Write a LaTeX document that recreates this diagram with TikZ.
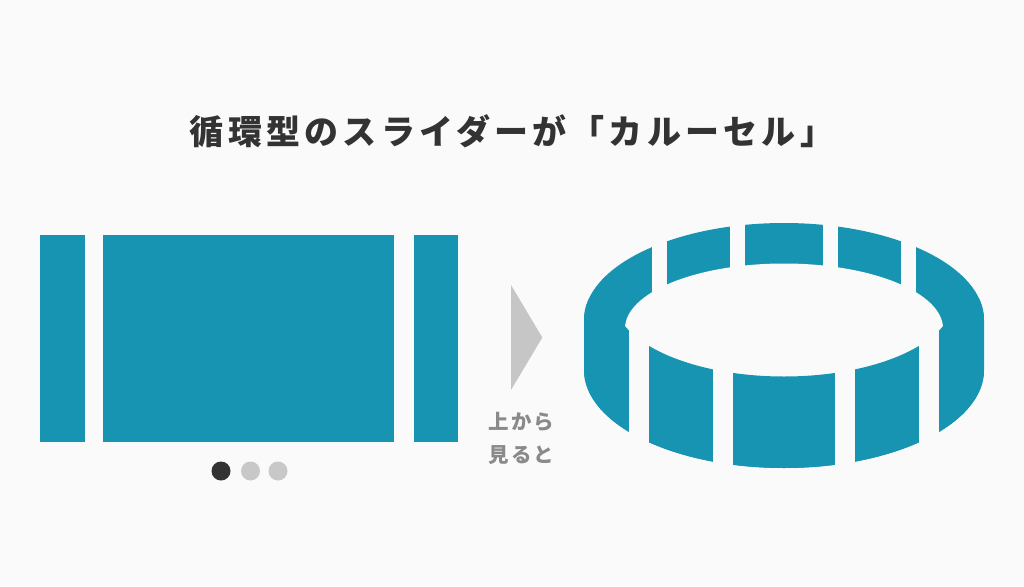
\documentclass[tikz,border=0pt]{standalone}
\usepackage{fontspec}
\newfontfamily\jptitle[LetterSpace=12.4]{Noto Sans CJK JP}
\newfontfamily\jplabel[LetterSpace=9]{Noto Sans CJK JP}
\definecolor{bgcol}{HTML}{FAFAFA}
\definecolor{slidecol}{HTML}{1794B1}
\definecolor{titlecol}{HTML}{333333}
\definecolor{labelcol}{HTML}{8A8A8A}
\definecolor{arrowcol}{HTML}{C6C6C6}
\definecolor{dotdark}{HTML}{333333}
\definecolor{dotlight}{HTML}{C8C8C8}
\tikzstyle{slide}=[fill=slidecol, inner sep=0pt, minimum height=206.4pt]
\tikzstyle{dot}=[circle, inner sep=0pt, minimum size=19pt]
\tikzstyle{adot}=[dot, fill=dotdark]
\tikzstyle{idot}=[dot, fill=dotlight]
\tikzstyle{caption}=[inner sep=0pt, text=labelcol, font=\jplabel\bfseries\fontsize{20.5}{20.5}\selectfont]
\newcommand{\ringoutline}{(584,320) arc[start angle=180, end angle=360, x radius=200, y radius=97]
  -- (984,370) arc[start angle=0, end angle=180, x radius=200, y radius=98] -- cycle}

\begin{document}
\begin{tikzpicture}[x=1pt, y=-1pt]
    \fill[bgcol] (0,0) rectangle (1024,586);
    \useasboundingbox (0,0) rectangle (1024,586);
    \node[inner sep=0pt, text=titlecol, font=\jptitle\bfseries\fontsize{34}{34}\selectfont] (title) at (512,131) {循環型のスライダーが「カルーセル」};

    \node[slide, minimum width=45pt]   (prev) at (62.8,338.5) {};
    \node[slide, minimum width=291pt]  (cur)  at (248.8,338.5) {};
    \node[slide, minimum width=44.6pt] (next) at (436,338.5) {};
    \node[adot] (D1) at (221,471) {};
    \node[idot] (D2) at (250.5,471) {};
    \node[idot] (D3) at (278,471) {};

    \fill[arrowcol] (511,285) -- (542.3,337.5) -- (511,390) -- cycle;
    \node[caption] (top)  at (521.5,421.7) {上から};
    \node[caption] (seen) at (521.5,455) {見ると};

    \fill[slidecol] \ringoutline;
    \fill[bgcol] (784,328.5) ellipse[x radius=159, y radius=65];
    \begin{scope}
        \clip \ringoutline;
        \fill[slidecol] (584,298.5) -- (614,298.5) arc[start angle=180, end angle=0, x radius=170, y radius=78] -- (984,298.5) |- (584,480) -- cycle;
    \end{scope}
    \foreach \a/\b in {652/667, 730/745, 823/838, 901/916}
        \fill[bgcol] (\a,200) rectangle (\b,305);
    \foreach \a/\b in {629/649, 713/733, 835/855, 919/939}
        \fill[bgcol] (\a,320) rectangle (\b,480);
\end{tikzpicture}
\end{document}
